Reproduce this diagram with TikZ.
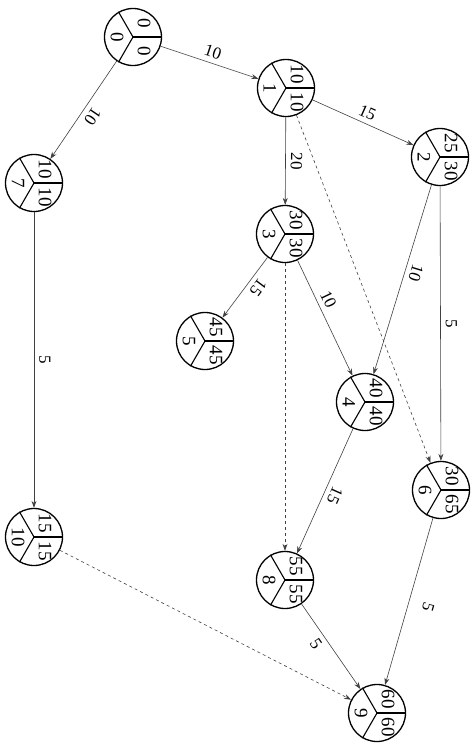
\documentclass[tikz,border=0pt]{standalone}
\usepackage{fontspec}
\setmainfont{Liberation Serif}
\usetikzlibrary{arrows.meta}
\tikzset{
  x=1pt,y=1pt,
  pcirc/.style={circle,draw,line width=1.3pt,minimum size=57pt,inner sep=0pt},
  divl/.style={line width=1.1pt},
  ntext/.style={rotate=-90,font=\fontsize{19}{19}\selectfont,inner sep=0pt},
  act/.style={line width=0.6pt,draw=black!75,-{Stealth[length=7pt,width=5pt]}},
  dum/.style={act,dashed},
  elab/.style={sloped,allow upside down,above,font=\fontsize{17}{17}\selectfont,inner sep=5pt}
}
\newcommand\pnode[6]{%
  \node[pcirc] (#1) at (#2,-#3) {};
  \draw[divl] (#1.center) -- (#1.east);
  \draw[divl] (#1.center) -- (#1.120);
  \draw[divl] (#1.center) -- (#1.240);
  \node[ntext] (#1es) at ([shift={(11,14)}]#1.center) {#4};
  \node[ntext] (#1ls) at ([shift={(11,-14)}]#1.center) {#5};
  \node[ntext] (#1id) at ([shift={(-16,0)}]#1.center) {#6};
}
\begin{document}
\begin{tikzpicture}
\useasboundingbox (0,0) rectangle (474,-748);
\pnode{n0}{133}{37}{0}{0}{0}
\pnode{n1}{286}{88}{10}{10}{1}
\pnode{n2}{440}{157}{25}{30}{2}
\pnode{n3}{285}{234}{30}{30}{3}
\pnode{n4}{365}{402}{40}{40}{4}
\pnode{n5}{205}{341}{45}{45}{5}
\pnode{n6}{441}{490}{30}{65}{6}
\pnode{n7}{34}{183}{10}{10}{7}
\pnode{n8}{285}{580}{55}{55}{8}
\pnode{n9}{377}{713}{60}{60}{9}
\pnode{n10}{34}{537}{15}{15}{10}
\draw[act] (n0) -- node[elab]{10} (n1);
\draw[act] (n0) -- node[elab]{10} (n7);
\draw[act] (n1) -- node[elab]{15} (n2);
\draw[act] (n1) -- node[elab]{20} (n3);
\draw[act] (n2) -- node[elab,pos=0.45]{10} (n4);
\draw[act] (n2) -- node[elab]{5} (n6);
\draw[act] (n3) -- node[elab,pos=0.4]{15} (n5);
\draw[act] (n3) -- node[elab,pos=0.38]{10} (n4);
\draw[act] (n4) -- node[elab]{15} (n8);
\draw[act] (n6) -- node[elab,inner sep=14pt]{5} (n9);
\draw[act] (n8) -- node[elab,below,pos=0.4]{5} (n9);
\draw[act] (n7) -- node[elab]{5} (n10);
\draw[dum] (n1) -- (n6);
\draw[dum] (n3) -- (n8);
\draw[dum] (n10) -- (n9);
\end{tikzpicture}
\end{document}
